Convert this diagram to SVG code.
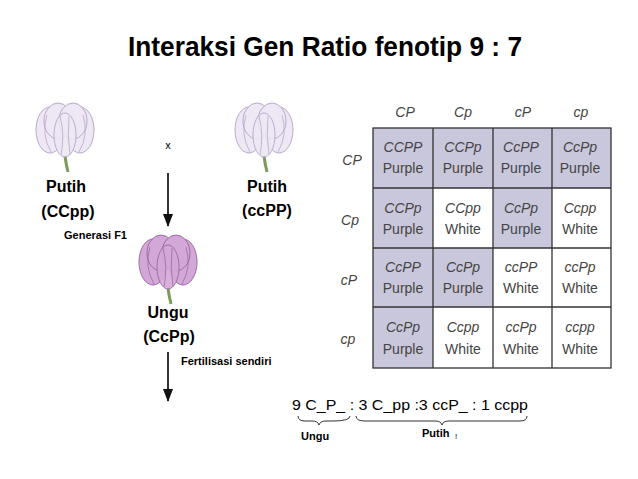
<svg xmlns="http://www.w3.org/2000/svg" width="638" height="479" viewBox="0 0 638 479">
<style>
.b{font-family:"Liberation Sans",Arial,sans-serif;font-weight:bold;fill:#000}
.g{font-family:"Liberation Sans",Arial,sans-serif;font-style:italic;fill:#444;font-size:14px;text-anchor:middle}
.c{font-family:"Liberation Sans",Arial,sans-serif;fill:#444;font-size:14px;text-anchor:middle}
.p{fill:#c9c7dc}
</style>
<defs>
<marker id="ah" markerWidth="13" markerHeight="10" refX="12" refY="5" orient="auto" markerUnits="userSpaceOnUse"><path d="M0,0 L13,5 L0,10 Z" fill="#111"/></marker>
<g id="flw">
<path d="M0,26 Q1,34 3,42" stroke="#7d9a5a" stroke-width="3" fill="none"/>
<ellipse cx="-15" cy="0" rx="14" ry="23"/>
<ellipse cx="15" cy="0" rx="14" ry="23"/>
<ellipse cx="-7" cy="-9" rx="14" ry="18"/>
<ellipse cx="8" cy="-9" rx="14" ry="18"/>
<ellipse cx="0" cy="5" rx="11" ry="22" opacity="0.9"/>
<path d="M-5,-14 Q0,5 -4,25 M4,-14 Q2,5 5,25 M-18,-15 Q-24,5 -14,22 M18,-15 Q24,5 14,22" fill="none" stroke-width="0.8"/>
</g>
</defs>
<rect width="638" height="479" fill="#fff"/>
<text class="b" x="325" y="56" font-size="27" text-anchor="middle" textLength="394" lengthAdjust="spacingAndGlyphs">Interaksi Gen Ratio fenotip 9 : 7</text>
<g id="parent1"><use href="#flw" x="65" y="130" fill="#ede8f3" stroke="#b9a8cc"/>
<text class="b" x="66" y="192" font-size="16" text-anchor="middle">Putih</text>
<text class="b" x="68" y="217" font-size="16" text-anchor="middle">(CCpp)</text></g>
<g id="parent2"><use href="#flw" x="264" y="130" fill="#ede8f3" stroke="#b9a8cc"/>
<text class="b" x="267" y="192" font-size="16" text-anchor="middle">Putih</text>
<text class="b" x="267" y="216" font-size="16" text-anchor="middle">(ccPP)</text></g>
<g id="f1"><use href="#flw" x="168" y="262" fill="#d4a8d6" stroke="#9a6aa6"/>
<text class="b" x="168" y="318" font-size="16" text-anchor="middle">Ungu</text>
<text class="b" x="169" y="342" font-size="16" text-anchor="middle">(CcPp)</text></g>
<text x="168" y="149" font-family="Liberation Sans,Arial,sans-serif" font-size="11" text-anchor="middle">x</text>
<text class="b" x="64" y="239" font-size="11">Generasi F1</text>
<text class="b" x="181" y="365" font-size="11">Fertilisasi sendiri</text>
<g id="connectors" stroke="#333" stroke-width="2">
<line x1="168" y1="173" x2="168" y2="226" marker-end="url(#ah)"/>
<line x1="168" y1="352" x2="168" y2="401" marker-end="url(#ah)"/>
</g>
<g id="punnett">
<rect class="p" x="373" y="128" width="238" height="60"/>
<rect class="p" x="373" y="188" width="60" height="180"/>
<rect class="p" x="493" y="188" width="59" height="60"/>
<rect class="p" x="433" y="248" width="60" height="59"/>
<g stroke="#333" stroke-width="1.3" fill="none">
<rect x="373" y="128" width="238" height="240"/>
<line x1="433" y1="128" x2="433" y2="368"/><line x1="493" y1="128" x2="493" y2="368"/><line x1="552" y1="128" x2="552" y2="368"/>
<line x1="373" y1="188" x2="611" y2="188"/><line x1="373" y1="248" x2="611" y2="248"/><line x1="373" y1="307" x2="611" y2="307"/>
</g>
<text class="g" x="405" y="117">CP</text><text class="g" x="463" y="117">Cp</text><text class="g" x="523" y="117">cP</text><text class="g" x="581" y="117">cp</text>
<text class="g" x="352" y="165">CP</text><text class="g" x="350" y="225">Cp</text><text class="g" x="349" y="285">cP</text><text class="g" x="348" y="344">cp</text>
<text class="g" x="403" y="152">CCPP</text><text class="c" x="403" y="173">Purple</text>
<text class="g" x="463" y="152">CCPp</text><text class="c" x="463" y="173">Purple</text>
<text class="g" x="521" y="152">CcPP</text><text class="c" x="521" y="173">Purple</text>
<text class="g" x="580" y="152">CcPp</text><text class="c" x="580" y="173">Purple</text>
<text class="g" x="403" y="213">CCPp</text><text class="c" x="403" y="234">Purple</text>
<text class="g" x="463" y="213">CCpp</text><text class="c" x="463" y="234">White</text>
<text class="g" x="521" y="213">CcPp</text><text class="c" x="521" y="234">Purple</text>
<text class="g" x="580" y="213">Ccpp</text><text class="c" x="580" y="234">White</text>
<text class="g" x="403" y="272">CcPP</text><text class="c" x="403" y="293">Purple</text>
<text class="g" x="463" y="272">CcPp</text><text class="c" x="463" y="293">Purple</text>
<text class="g" x="521" y="272">ccPP</text><text class="c" x="521" y="293">White</text>
<text class="g" x="580" y="272">ccPp</text><text class="c" x="580" y="293">White</text>
<text class="g" x="403" y="332">CcPp</text><text class="c" x="403" y="354">Purple</text>
<text class="g" x="463" y="332">Ccpp</text><text class="c" x="463" y="354">White</text>
<text class="g" x="521" y="332">ccPp</text><text class="c" x="521" y="354">White</text>
<text class="g" x="580" y="332">ccpp</text><text class="c" x="580" y="354">White</text>
</g>
<g id="ratio">
<text x="292" y="410" font-family="Liberation Sans,Arial,sans-serif" font-size="15" textLength="236" lengthAdjust="spacingAndGlyphs">9 C_P_ : 3 C_pp :3 ccP_ : 1 ccpp</text>
<g stroke="#333" stroke-width="1" fill="none">
<path d="M298,416 Q298,421 305,421 L312,421 Q318,421 319,425 Q320,421 326,421 L333,421 Q350,421 350,416"/>
<path d="M356,416 Q356,421 365,421 L435,421 Q441,421 442,425 Q443,421 449,421 L520,421 Q527,421 527,416"/>
</g>
<text class="b" x="301" y="440" font-size="11">Ungu</text>
<text class="b" x="422" y="437" font-size="11">Putih</text>
<text x="455" y="439" font-family="Liberation Sans,Arial,sans-serif" font-size="8">!</text>
</g>
</svg>
